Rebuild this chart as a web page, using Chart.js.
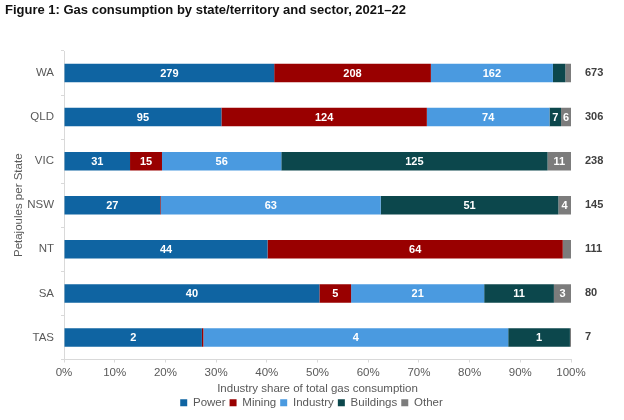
<!DOCTYPE html>
<html>
<head>
<meta charset="utf-8">
<title>Gas consumption by state/territory and sector</title>
<script src="https://cdn.jsdelivr.net/npm/chart.js@4.4.1/dist/chart.umd.min.js"></script>
<style>
  html, body { margin: 0; padding: 0; background: #ffffff; }
  #wrap { width: 624px; height: 420px; position: relative; }
</style>
</head>
<body>
<div id="wrap"><canvas id="gasChart"></canvas></div>
<script>
// --- Data (PJ, 2021-22) ---
const states = ['WA', 'QLD', 'VIC', 'NSW', 'NT', 'SA', 'TAS'];
const power     = [279,  95,  31, 27.4, 44.4, 40.3, 1.9];
const mining    = [208, 124,  15,  0.2, 64.4,  5,   0.02];
const industry  = [162,  74,  56, 62.6,  0,   21,   4.2];
const buildings = [16.5,  7, 125, 50.6,  0,   11,   0.85];
const other     = [7.5,   6,  11,  3.6,  1.8,  2.7, 0.015];
const totals    = [673, 306, 238, 145, 111, 80, 7];
const xTicks    = [0, 10, 20, 30, 40, 50, 60, 70, 80, 90, 100];

const sectors = [
    { label: 'Power',     values: power,     color: '#0f64a2' },
    { label: 'Mining',    values: mining,    color: '#990000' },
    { label: 'Industry',  values: industry,  color: '#4a9ae0' },
    { label: 'Buildings', values: buildings, color: '#0c474c' },
    { label: 'Other',     values: other,     color: '#7c7c7c' }
];

// row sums -> 100% stacked shares
const rowSums = states.map((_, i) => sectors.reduce((s, sec) => s + sec.values[i], 0));

const FONT = "'Liberation Sans', Arial, sans-serif";
const GREY_TEXT = '#595959';
const AXIS_GREY = '#d9d9d9';

// --- PJ labels inside the segments (only where they fit) ---
const barLabels = {
    id: 'barLabels',
    afterDatasetsDraw(chart) {
        const ctx = chart.ctx;
        ctx.save();
        ctx.font = 'bold 11px ' + FONT;
        ctx.textBaseline = 'middle';
        ctx.textAlign = 'center';
        ctx.fillStyle = '#ffffff';
        chart.data.datasets.forEach((ds, di) => {
            const meta = chart.getDatasetMeta(di);
            meta.data.forEach((bar, i) => {
                const v = Math.round(sectors[di].values[i]);
                if (v < 1) return;
                const txt = String(v);
                const w = Math.abs(bar.x - bar.base);
                if (ctx.measureText(txt).width + 3 > w) return;
                ctx.fillText(txt, (bar.x + bar.base) / 2, bar.y + 0.5);
            });
        });
        ctx.restore();
    }
};

const ctx = document.getElementById('gasChart').getContext('2d');
const gasChart = new Chart(ctx, {
    type: 'bar',
    data: {
        labels: states,
        datasets: sectors.map(sec => ({
            label: sec.label,
            data: sec.values.map((v, i) => v / rowSums[i] * 100),
            backgroundColor: sec.color,
            borderWidth: 0,
            categoryPercentage: 1,
            barPercentage: 0.42,
            yAxisID: 'y'
        }))
    },
    options: {
        indexAxis: 'y',
        responsive: true,
        maintainAspectRatio: false,
        animation: false,
        devicePixelRatio: 1,
        layout: { padding: { left: 5, right: 6, top: 0, bottom: 1.5 } },
        plugins: {
            tooltip: { enabled: false },
            title: {
                display: true,
                text: 'Figure 1: Gas consumption by state/territory and sector, 2021\u201322',
                align: 'start',
                color: '#111111',
                font: { family: FONT, size: 13, weight: 'bold', lineHeight: 1.2 },
                padding: { top: 3, bottom: 32.4 }
            },
            legend: {
                position: 'bottom',
                labels: {
                    boxWidth: 7,
                    boxHeight: 7,
                    padding: 4,
                    color: GREY_TEXT,
                    font: { family: FONT, size: 11.5 }
                }
            }
        },
        scales: {
            x: {
                stacked: true,
                min: 0,
                max: 100,
                afterBuildTicks: scale => { scale.ticks = xTicks.map(v => ({ value: v })); },
                afterFit: scale => { scale.height = 33.5; },
                ticks: {
                    callback: v => v + '%',
                    color: GREY_TEXT,
                    font: { family: FONT, size: 11.5 },
                    padding: 3,
                    maxRotation: 0
                },
                grid: { drawOnChartArea: false, drawTicks: true, tickLength: 3, color: AXIS_GREY },
                border: { display: true, color: AXIS_GREY },
                title: {
                    display: true,
                    text: 'Industry share of total gas consumption',
                    color: GREY_TEXT,
                    font: { family: FONT, size: 11.5 },
                    padding: { top: 0, bottom: -3 }
                }
            },
            y: {
                stacked: true,
                afterFit: scale => { scale.width = 59; },
                ticks: {
                    color: GREY_TEXT,
                    font: { family: FONT, size: 11.5 },
                    padding: 7
                },
                grid: { drawOnChartArea: false, drawTicks: true, tickLength: 3, offset: true, color: AXIS_GREY },
                border: { display: true, color: AXIS_GREY },
                title: {
                    display: true,
                    text: 'Petajoules per State',
                    color: GREY_TEXT,
                    font: { family: FONT, size: 11.5 },
                    padding: { top: 7, bottom: 0 }
                }
            },
            // totals column on the right
            yTotals: {
                type: 'category',
                position: 'right',
                labels: totals.map(String),
                offset: true,
                afterFit: scale => { scale.width = 47; },
                ticks: {
                    color: '#404040',
                    font: { family: FONT, size: 11, weight: 'bold' },
                    padding: 14
                },
                grid: { display: false, drawTicks: false },
                border: { display: false }
            }
        }
    },
    plugins: [barLabels]
});
</script>
</body>
</html>
